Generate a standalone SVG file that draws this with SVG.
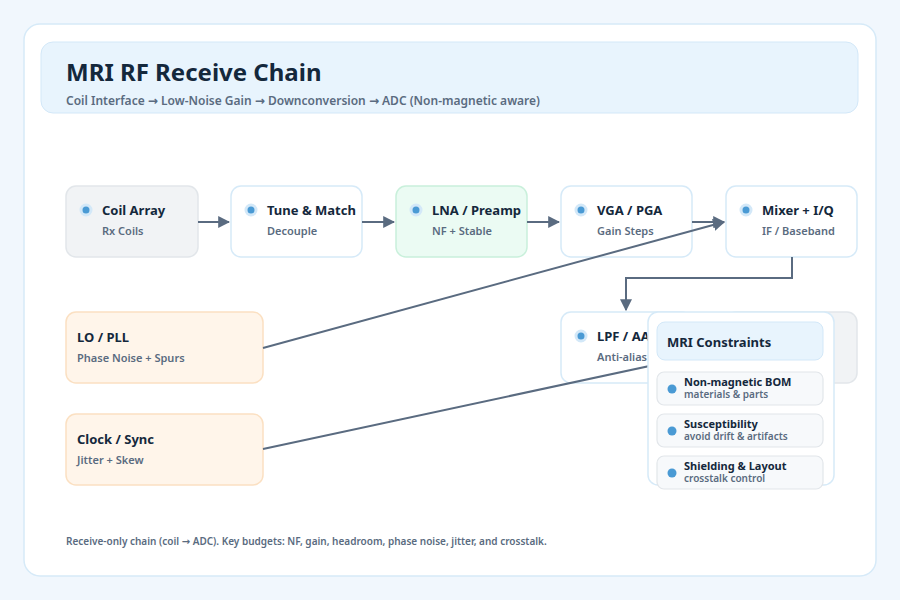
<svg xmlns="http://www.w3.org/2000/svg" width="900" height="600" viewBox="0 0 900 600">
<defs>
<marker id="ah" viewBox="0 0 10 10" refX="9" refY="5" markerWidth="6" markerHeight="6" orient="auto"><path d="M0,0L10,5L0,10z" fill="#5a6b80"/></marker>
<style>
text{font-family:"Noto Sans","DejaVu Sans",sans-serif}
.t{font-size:13px;font-weight:700;fill:#14283c}
.s{font-size:11px;font-weight:600;fill:#5a6b80}
.n{fill:#fff;stroke:#d6eaf8;stroke-width:1.5}
.dot{fill:#4a9ad4;stroke:#d3e8f8;stroke-width:3}
.c{fill:none;stroke:#5a6b80;stroke-width:2}
.it{fill:#f7f9fb;stroke:#e2e6ea;stroke-width:1.2}
.it1{font-size:11px;font-weight:700;fill:#14283c}
.it2{font-size:10px;font-weight:600;fill:#5a6b80}
</style>
</defs>
<rect width="900" height="600" fill="#f1f7fd"/>
<rect x="24" y="24" width="852" height="552" rx="16" fill="#fff" stroke="#d6eaf8" stroke-width="1.5"/>
<g id="header">
<rect x="41" y="42" width="817" height="71" rx="12" fill="#e8f4fd" stroke="#d3e8f8"/>
<text x="66" y="81" font-size="24" font-weight="700" fill="#14283c">MRI RF Receive Chain</text>
<text x="66" y="105" font-size="12" font-weight="600" fill="#5a6b80">Coil Interface → Low-Noise Gain → Downconversion → ADC (Non-magnetic aware)</text>
</g>
<g id="coil"><rect x="66" y="186" width="132" height="71" rx="10" fill="#f1f3f5" stroke="#e2e6ea" stroke-width="1.5"/><circle class="dot" cx="86" cy="210" r="5"/><text class="t" x="102" y="215">Coil Array</text><text class="s" x="102" y="235">Rx Coils</text></g>
<g id="tune"><rect class="n" x="231" y="186" width="131" height="71" rx="10"/><circle class="dot" cx="251" cy="210" r="5"/><text class="t" x="267" y="215">Tune &amp; Match</text><text class="s" x="267" y="235">Decouple</text></g>
<g id="lna"><rect x="396" y="186" width="131" height="71" rx="10" fill="#ebfbf3" stroke="#c9f0db" stroke-width="1.5"/><circle class="dot" cx="416" cy="210" r="5"/><text class="t" x="432" y="215">LNA / Preamp</text><text class="s" x="432" y="235">NF + Stable</text></g>
<g id="vga"><rect class="n" x="561" y="186" width="131" height="71" rx="10"/><circle class="dot" cx="581" cy="210" r="5"/><text class="t" x="597" y="215">VGA / PGA</text><text class="s" x="597" y="235">Gain Steps</text></g>
<g id="mixer"><rect class="n" x="726" y="186" width="131" height="71" rx="10"/><circle class="dot" cx="746" cy="210" r="5"/><text class="t" x="762" y="215">Mixer + I/Q</text><text class="s" x="762" y="235">IF / Baseband</text></g>
<g id="lpf"><rect class="n" x="561" y="312" width="131" height="71" rx="10"/><circle class="dot" cx="581" cy="336" r="5"/><text class="t" x="597" y="341">LPF / AAF</text><text class="s" x="597" y="361">Anti-alias</text></g>
<g id="adc"><rect x="726" y="312" width="131" height="71" rx="10" fill="#f1f3f5" stroke="#e2e6ea" stroke-width="1.5"/></g>
<g id="lo"><rect x="66" y="312" width="197" height="71" rx="10" fill="#fff5ea" stroke="#fbe0c2" stroke-width="1.5"/><text class="t" x="77" y="342">LO / PLL</text><text class="s" x="77" y="362">Phase Noise + Spurs</text></g>
<g id="clock"><rect x="66" y="414" width="197" height="71" rx="10" fill="#fff5ea" stroke="#fbe0c2" stroke-width="1.5"/><text class="t" x="77" y="444">Clock / Sync</text><text class="s" x="77" y="464">Jitter + Skew</text></g>
<g id="connectors">
<path class="c" d="M198,222H229" marker-end="url(#ah)"/>
<path class="c" d="M362,222H394" marker-end="url(#ah)"/>
<path class="c" d="M527,222H559" marker-end="url(#ah)"/>
<path class="c" d="M692,222H724" marker-end="url(#ah)"/>
<path class="c" d="M792,257V278H626V310" marker-end="url(#ah)"/>
<path class="c" d="M263,348L724,222" marker-end="url(#ah)"/>
<path class="c" d="M263,449L724,350" marker-end="url(#ah)"/>
</g>
<g id="constraints">
<rect x="648" y="312" width="186" height="173" rx="10" fill="#fff" stroke="#d6eaf8" stroke-width="1.5"/>
<rect x="657" y="322" width="166" height="38" rx="8" fill="#e8f4fd" stroke="#d3e8f8"/>
<text x="667" y="347" font-size="13" font-weight="700" fill="#14283c">MRI Constraints</text>
<rect class="it" x="657" y="372" width="166" height="33" rx="7"/><circle cx="672" cy="389" r="4.5" fill="#4a9ad4"/><text class="it1" x="684" y="386">Non-magnetic BOM</text><text class="it2" x="684" y="398">materials &amp; parts</text>
<rect class="it" x="657" y="414" width="166" height="33" rx="7"/><circle cx="672" cy="431" r="4.5" fill="#4a9ad4"/><text class="it1" x="684" y="428">Susceptibility</text><text class="it2" x="684" y="440">avoid drift &amp; artifacts</text>
<rect class="it" x="657" y="456" width="166" height="33" rx="7"/><circle cx="672" cy="473" r="4.5" fill="#4a9ad4"/><text class="it1" x="684" y="470">Shielding &amp; Layout</text><text class="it2" x="684" y="482">crosstalk control</text>
</g>
<text x="66" y="545" font-size="10" font-weight="600" fill="#5a6b80">Receive-only chain (coil → ADC). Key budgets: NF, gain, headroom, phase noise, jitter, and crosstalk.</text>
</svg>
